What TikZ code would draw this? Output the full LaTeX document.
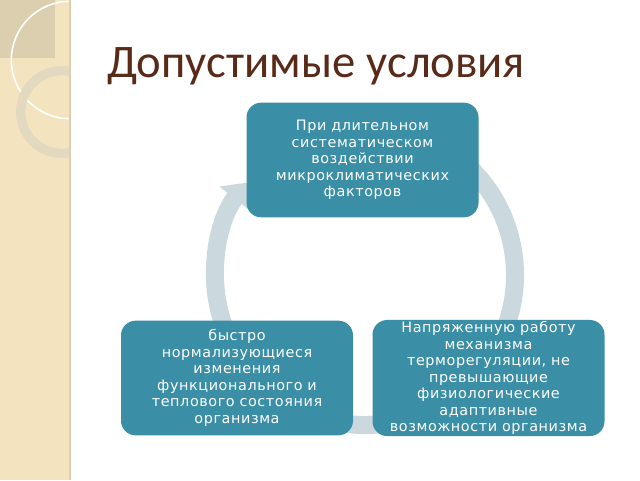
\documentclass[tikz,border=0pt]{standalone}
\usepackage{fontspec}
\setmainfont{DejaVu Sans}[LetterSpace=4]
\newfontfamily\titlefont{Carlito}
\usetikzlibrary{arrows.meta}
\definecolor{teal1}{HTML}{3A8EA5}
\definecolor{ringc}{HTML}{CBD9DF}
\definecolor{beige}{HTML}{F3E4BF}
\definecolor{beige2}{HTML}{DCCFB0}
\definecolor{titlec}{HTML}{5A2A18}
\begin{document}
\begin{tikzpicture}[x=0.75pt,y=-0.75pt,
  box/.style={fill=teal1,rounded corners=11pt,text=white,align=center,
    minimum width=174pt,minimum height=86pt,text width=172pt,inner sep=1pt,font=\fontsize{10.8}{12.4}\selectfont}]
\useasboundingbox (0,0) rectangle (640,480);
\fill[white] (0,0) rectangle (640,480);
% left strip
\fill[beige] (0,0) rectangle (70,480);
\begin{scope}
\clip (0,0) rectangle (70,480);
\fill[beige2] (0,0) rectangle (55,58);
\draw[white,line width=1.2pt] (70,60) circle[radius=44pt];
\draw[beige2!80!white,line width=7pt] (62,112) circle[radius=31pt];
\end{scope}
\draw[beige2,line width=0.8pt] (70,0) -- (70,480);
% title
\node[anchor=base west,text=titlec,font=\titlefont\fontsize{35}{40}\selectfont,inner sep=0] (title) at (107,77) {Допустимые условия};
% ring
\draw[ringc,line width=13.5pt,-{Triangle[width=28pt,length=15pt]}]
  (365,275) ++(100:112.5pt) arc[start angle=100,end angle=-218,radius=112.5pt];
% boxes
\node[box] (top) at (362.5,160) {При длительном\\систематическом\\воздействии\\микроклиматических\\факторов\\[20pt]};
\node[box] (bl) at (237,378) {быстро\\нормализующиеся\\изменения\\функционального и\\теплового состояния\\организма};
\node[box] (br) at (488.5,378) {Напряженную работу\\механизма\\терморегуляции, не\\превышающие\\физиологические\\адаптивные\\возможности организма};
\end{tikzpicture}
\end{document}
